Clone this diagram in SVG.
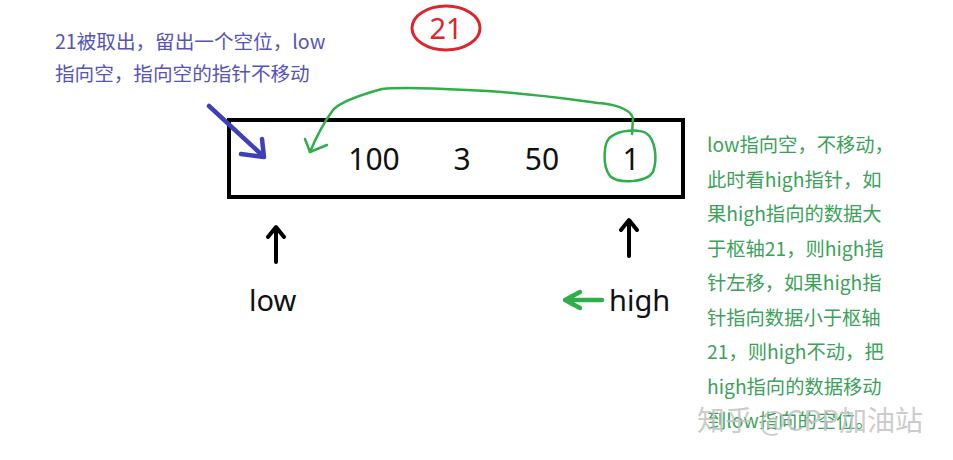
<svg xmlns="http://www.w3.org/2000/svg" width="953" height="460" viewBox="0 0 953 460">
<style>
.blue{fill:#5654b8;font-family:"Noto Sans CJK SC",sans-serif;font-size:19.6px}
.green{fill:#3ca25a;font-family:"Noto Sans CJK SC",sans-serif;font-size:19.3px}
.num{fill:#111;font-family:"Noto Sans","Noto Sans CJK SC",sans-serif;font-size:30px;text-anchor:middle}
.lbl{fill:#111;font-family:"Noto Sans","Noto Sans CJK SC",sans-serif;font-size:29px}
.gs{fill:none;stroke:#2fae4a;stroke-width:2.5;stroke-linecap:round;stroke-linejoin:round}
.bk{fill:none;stroke:#000;stroke-width:4;stroke-linecap:round;stroke-linejoin:round}
.bl{fill:none;stroke:#3f3fb8;stroke-width:4.5;stroke-linecap:round;stroke-linejoin:round}
.wm{fill:#c4c4c4;font-family:"Noto Sans CJK SC",sans-serif;font-size:28px;opacity:0.85}
</style>
<rect width="953" height="460" fill="#fff"/>
<g id="note-left">
<text class="blue" x="55" y="49">21被取出，留出一个空位，low</text>
<text class="blue" x="55" y="81">指向空，指向空的指针不移动</text>
</g>
<g id="pivot">
<ellipse cx="446" cy="28" rx="34" ry="22" fill="none" stroke="#e0242c" stroke-width="3"/>
<text x="446" y="39" text-anchor="middle" fill="#e0242c" font-family="Noto Sans,sans-serif" font-size="29">21</text>
</g>
<g id="array">
<rect x="229" y="120" width="454" height="77" fill="none" stroke="#000" stroke-width="4"/>
<text class="num" x="374" y="170">100</text>
<text class="num" x="462" y="170">3</text>
<text class="num" x="542" y="170">50</text>
<text class="num" x="631" y="170">1</text>
</g>
<g id="low">
<text class="lbl" x="249" y="311">low</text>
</g>
<g id="high">
<text class="lbl" x="609" y="311">high</text>
</g>
<g id="note-right">
<text class="green" x="707" y="152">low指向空，不移动，</text>
<text class="green" x="707" y="187">此时看high指针，如</text>
<text class="green" x="707" y="221">果high指向的数据大</text>
<text class="green" x="707" y="256">于枢轴21，则high指</text>
<text class="green" x="707" y="290">针左移，如果high指</text>
<text class="green" x="707" y="325">针指向数据小于枢轴</text>
<text class="green" x="707" y="359">21，则high不动，把</text>
<text class="green" x="707" y="394">high指向的数据移动</text>
<text class="green" x="707" y="428">到low指向的空位。</text>
</g>
<g id="connectors">
<path class="gs" d="M612 136 C603 140 602 166 610 176 C618 184 646 183 653 172 C658 158 655 139 646 133 C638 129 620 130 612 136"/>
<path class="gs" d="M632 134 L633 118 C630 108 612 104 598 103 C560 98 520 92 467 90 C430 88 400 87 382 89 C360 95 340 102 333 110 C322 125 315 140 310 152"/>
<path class="gs" d="M305 139 L310 152 L327 145"/>
<path class="bl" d="M209 106 L263 156"/>
<path class="bl" d="M262 139 L264 157 L241 154"/>
<path class="bk" d="M276 262 L276 228 M268 237 L276 227 L284 237"/>
<path class="bk" d="M629 256 L629 221 M621 230 L629 220 L637 230"/>
<path fill="none" stroke="#2fae4a" stroke-width="4.5" stroke-linecap="round" stroke-linejoin="round" d="M602 300 L566 300 M580 292 L565 300 L580 308"/>
</g>
<text class="wm" x="697" y="431">知乎 @CPP加油站</text>
</svg>
